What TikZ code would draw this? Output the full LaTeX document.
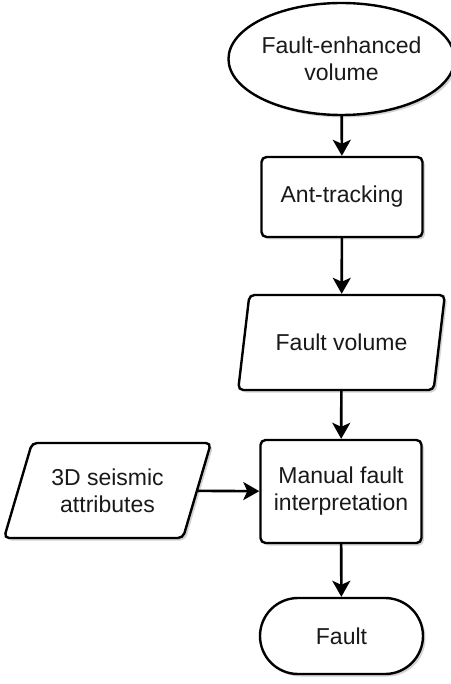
\documentclass[tikz,border=0pt]{standalone}
\usepackage{fontspec}
\setmainfont{Liberation Sans}
\usetikzlibrary{shapes.geometric,shadows,arrows.meta}
\begin{document}
\begin{tikzpicture}[x=1pt,y=-1pt,
  base/.style={draw=black, line width=2.4pt, fill=white, align=center, inner sep=0pt,
    font=\fontsize{23}{27}\selectfont, text=black!90,
    drop shadow={opacity=0.35, shadow xshift=2.5pt, shadow yshift=-2.5pt}},
  procbox/.style={base, rectangle, rounded corners=5pt, minimum width=161pt},
  databox/.style={base, trapezium, trapezium left angle=64.6, trapezium right angle=115.4,
    trapezium stretches=true, rounded corners=5pt, minimum width=207pt, minimum height=95pt},
  startbox/.style={base, ellipse, minimum width=193pt, minimum height=112pt},
  endbox/.style={base, rectangle, rounded corners=38pt, minimum width=163pt, minimum height=76pt},
  conn/.style={line width=2.6pt, -{Stealth[length=16pt, width=18pt, inset=4pt]}}
]
\useasboundingbox (0,0) rectangle (450,684);
\node[startbox] (fev) at (341.5,59) {Fault-enhanced\\volume};
\node[procbox, minimum height=80pt] (ant) at (342,197) {Ant-tracking};
\node[databox] (fv) at (341.5,342.5) {Fault volume};
\node[procbox, minimum height=103pt] (mfi) at (341,491.5) {Manual fault\\interpretation};
\node[databox] (sa) at (107.5,490.5) {3D seismic\\attributes};
\node[endbox] (fault) at (341.5,636) {Fault};
\draw[conn] (fev) -- (ant);
\draw[conn] (ant) -- (fv);
\draw[conn] (fv) -- (mfi);
\draw[conn] (sa) -- (mfi);
\draw[conn] (mfi) -- (fault);
\end{tikzpicture}
\end{document}
